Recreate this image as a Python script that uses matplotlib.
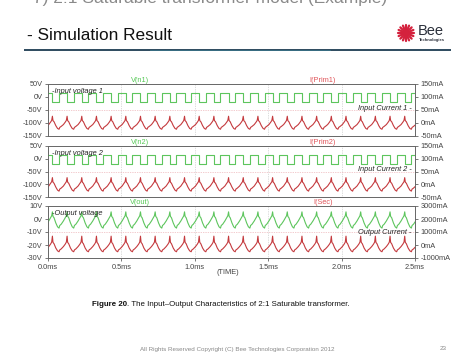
import numpy as np
import matplotlib
matplotlib.use("Agg")
import matplotlib.pyplot as plt

plt.rcParams['font.family'] = ['Liberation Sans', 'DejaVu Sans']

# ---------------- data ----------------
period_ms = 0.1          # switching period
first_edge_ms = -0.025   # rising edge of the input square wave just before t=0
n_cycles = 27

# square input voltages: phase in one period and level (V)
sq_phase = [0.0, 0.55, 0.55, 1.0]
vn1_cycle = [14, 14, -20, -20]
vn2_cycle = [14, 14, -20, -20]

# saturating waveforms: phase in one period
sat_phase = [0.00, 0.05, 0.15, 0.30, 0.42, 0.50, 0.55, 0.59, 0.66, 0.78, 0.90, 1.00]
iprim1_cycle = [-24, -17, -13, -6, 3, 10, 26, 9, 5, -10, -21, -24]        # mA
iprim2_cycle = [-27, -19, -15, -7, 3, 10, 26, 8, 4, -11, -23, -27]        # mA
vout_cycle = [-7, -5, -4, -1.5, 1, 2.5, 5.5, 2, 1, -3, -6, -7]            # V
isec_cycle = [-520, -380, -300, -120, 60, 220, 680, 200, 100, -230, -450, -520]  # mA

x_ticks = [0.0, 0.5, 1.0, 1.5, 2.0, 2.5]
x_labels = ["0.0ms", "0.5ms", "1.0ms", "1.5ms", "2.0ms", "2.5ms"]

panels = [
    dict(vname="V(n1)", iname="I(Prim1)", vlim=(-150, 50), vt=[50, 0, -50, -100, -150],
         vl=["50V", "0V", "-50V", "-100V", "-150V"], ilim=(-50, 150),
         it=[150, 100, 50, 0, -50], il=["150mA", "100mA", "50mA", "0mA", "-50mA"],
         vph=sq_phase, vv=vn1_cycle, iph=sat_phase, iv=iprim1_cycle,
         vlab="Input voltage 1", ilab="Input Current 1", ilab_y=0.53, grid_v=-50),
    dict(vname="V(n2)", iname="I(Prim2)", vlim=(-150, 50), vt=[50, 0, -50, -100, -150],
         vl=["50V", "0V", "-50V", "-100V", "-150V"], ilim=(-50, 150),
         it=[150, 100, 50, 0, -50], il=["150mA", "100mA", "50mA", "0mA", "-50mA"],
         vph=sq_phase, vv=vn2_cycle, iph=sat_phase, iv=iprim2_cycle,
         vlab="Input voltage 2", ilab="Input Current 2", ilab_y=0.53, grid_v=-50),
    dict(vname="V(out)", iname="I(Sec)", vlim=(-30, 10), vt=[10, 0, -10, -20, -30],
         vl=["10V", "0V", "-10V", "-20V", "-30V"], ilim=(-1000, 3000),
         it=[3000, 2000, 1000, 0, -1000], il=["3000mA", "2000mA", "1000mA", "0mA", "-1000mA"],
         vph=sat_phase, vv=vout_cycle, iph=sat_phase, iv=isec_cycle,
         vlab="Output voltage", ilab="Output Current", ilab_y=0.5, grid_v=-10),
]


def periodic(phase, vals):
    ph = np.asarray(phase)
    t = np.concatenate([first_edge_ms + (k + ph) * period_ms for k in range(n_cycles)])
    v = np.tile(np.asarray(vals, dtype=float), n_cycles)
    return t, v


GREEN = "#5dc55d"
RED = "#c43a3e"
GTXT = "#55c855"
RTXT = "#e0555a"
FS = 5.3

W, H = 474, 355
fig = plt.figure(figsize=(W / 100, H / 100), dpi=100)
bg = fig.add_axes([0, 0, 1, 1])
bg.set_xlim(0, W)
bg.set_ylim(H, 0)
bg.axis('off')

# slide decorations
bg.text(33, 3.5, "7) 2:1 Saturable transformer model (Example)", fontsize=12.5,
        color="#8a8a8a", va='baseline', ha='left')
bg.text(27, 36, "- Simulation Result", fontsize=12.4, color="#111111", va='center', ha='left')
bg.plot([24, 451], [50, 50], color="#1d3b52", lw=1.3, solid_capstyle='butt')
bg.plot([150, 330], [50, 50], color="#3f8aa0", lw=0.6, alpha=0.6)
# logo
cx, cy = 406, 33
for ang in np.arange(0, 180, 22.5):
    a = np.deg2rad(ang)
    bg.plot([cx - 8 * np.cos(a), cx + 8 * np.cos(a)], [cy - 8 * np.sin(a), cy + 8 * np.sin(a)],
            color="#d4213d", lw=1.6, solid_capstyle='round')
bg.plot([cx], [cy], marker='o', ms=3, color="#d4213d")
bg.text(418, 31, "Bee", fontsize=10.5, color="#2a2f3a", va='center', ha='left')
bg.text(419, 40, "Technologies", fontsize=3, color="#2a2f3a", va='center', ha='left',
        fontweight='bold')

# panels
tops = [84, 146, 206]
bots = [136, 197, 258]
L, R = 48, 415
for p, top, bot in zip(panels, tops, bots):
    ax = fig.add_axes([L / W, 1 - bot / H, (R - L) / W, (bot - top) / H])
    ax2 = ax.twinx()
    tv, vv = periodic(p["vph"], p["vv"])
    ti, iv = periodic(p["iph"], p["iv"])
    ax.plot(tv, vv, color=GREEN, lw=0.8, zorder=3)
    ax2.plot(ti, iv, color=RED, lw=0.8)
    ax.set_xlim(0, 2.5)
    ax.set_ylim(*p["vlim"])
    ax2.set_ylim(*p["ilim"])
    ax.set_yticks(p["vt"])
    ax.set_yticklabels(p["vl"])
    ax2.set_yticks(p["it"])
    ax2.set_yticklabels(p["il"])
    for a in (ax, ax2):
        a.tick_params(labelsize=FS, length=2.5, width=0.5, colors="#444444", pad=1.5)
        for s in a.spines.values():
            s.set_color("#666666")
            s.set_linewidth(0.6)
    for xg in [0.5, 1.0, 1.5, 2.0]:
        ax.axvline(xg, color="#bbbbbb", lw=0.5, ls=(0, (1, 1.5)), zorder=1)
    ax.axhline(p["grid_v"], color="#e89aa0", lw=0.5, ls=(0, (1, 1.5)), zorder=1)
    ax.set_xticks(x_ticks)
    if p is panels[-1]:
        ax.set_xticklabels(x_labels)
    else:
        ax.tick_params(axis='x', labelbottom=False, length=0)
    ax.text(0.012, 0.85, "-" + p["vlab"], transform=ax.transAxes, fontsize=FS,
            style='italic', color="#222222", va='center', ha='left', zorder=5)
    ax2.text(0.99, p["ilab_y"], p["ilab"] + " -", transform=ax2.transAxes, fontsize=FS,
             style='italic', color="#222222", va='center', ha='right', zorder=5)
    bg.text(140, top - 4, p["vname"], fontsize=FS, color=GTXT, ha='center', va='center')
    bg.text(323, top - 4, p["iname"], fontsize=FS, color=RTXT, ha='center', va='center')

bg.text(228, 272, "(TIME)", fontsize=FS, color="#444444", ha='center', va='center')

# caption
t1 = bg.text(92, 304, "Figure 20", fontsize=5.7, fontweight='bold', color="#111111",
             ha='left', va='center')
bg.annotate(". The Input\u2013Output Characteristics of 2:1 Saturable transformer.",
            xy=(1, 0.5), xycoords=t1, fontsize=5.7, color="#111111", ha='left', va='center')

bg.text(237, 349, "All Rights Reserved Copyright (C) Bee Technologies Corporation 2012",
        fontsize=4.5, color="#888888", ha='center', va='center')
bg.text(443, 349, "23", fontsize=4.5, color="#888888", ha='center', va='center')

fig.savefig("out.png", dpi=100)
